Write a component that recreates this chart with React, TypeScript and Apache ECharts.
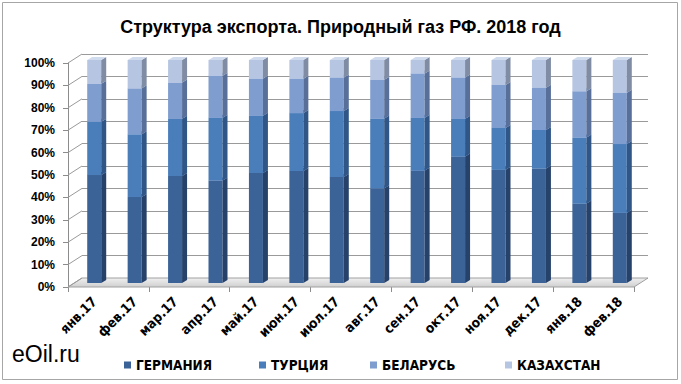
import React, { useEffect, useRef } from "react";
import * as echarts from "echarts";

const categories = ["янв.17", "фев.17", "мар.17", "апр.17", "май.17", "июн.17", "июл.17", "авг.17", "сен.17", "окт.17", "ноя.17", "дек.17", "янв.18", "фев.18"];
const germany = [48.4, 38.6, 48.0, 46.0, 49.3, 50.2, 47.5, 42.5, 50.4, 56.7, 50.8, 51.4, 35.6, 31.5];
const turkey = [23.9, 28.1, 25.6, 28.1, 25.7, 26.0, 29.6, 31.3, 23.7, 16.9, 18.7, 17.2, 29.7, 30.8];
const belarus = [17.0, 20.6, 16.3, 18.8, 16.7, 15.4, 15.1, 17.3, 19.9, 18.6, 19.3, 19.0, 20.7, 23.0];
const kazakhstan = [10.7, 12.7, 10.1, 7.1, 8.3, 8.4, 7.8, 8.9, 6.0, 7.8, 11.2, 12.4, 14.0, 14.7];
const seriesNames = ["ГЕРМАНИЯ", "ТУРЦИЯ", "БЕЛАРУСЬ", "КАЗАХСТАН"];
const tickValues = [0, 10, 20, 30, 40, 50, 60, 70, 80, 90, 100];
const legendLefts = [119, 254, 365, 500];

const frontColors = ["#3b6397", "#4a7ebb", "#7f9dcf", "#b6c5e2"];
const sideColors = ["#26416a", "#2f5686", "#586f9a", "#7f8ca4"];
const topColors = ["#5a80b5", "#6e98cc", "#a3b9df", "#d0dbee"];

const DX = 5;
const DY = -3;
const HALF = 7;

export default function App() {
  const ref = useRef<HTMLDivElement>(null);
  useEffect(() => {
    document.body.style.margin = "0";
    const chart = echarts.init(ref.current!, null, { renderer: "svg" });
    const all = [germany, turkey, belarus, kazakhstan];
    const cum = categories.map(() => 0);
    const barSeries = all.map((arr, s) => {
      const data = arr.map((v, i) => {
        const start = cum[i];
        cum[i] += v;
        return [i, start, cum[i]];
      });
      return {
        type: "custom",
        name: seriesNames[s],
        xAxisIndex: 2,
        yAxisIndex: 2,
        z: 10 + s,
        itemStyle: { color: frontColors[s] },
        encode: { x: 0, y: [1, 2] },
        data,
        renderItem: (params: any, api: any) => {
          const idx = api.value(0);
          const p0 = api.coord([idx, api.value(1)]);
          const p1 = api.coord([idx, api.value(2)]);
          const cx = p0[0];
          const x0 = cx - HALF;
          const x1 = cx + HALF;
          return {
            type: "group",
            children: [
              {
                type: "rect",
                shape: { x: x0, y: p1[1], width: x1 - x0, height: p0[1] - p1[1] },
                style: { fill: frontColors[s] },
              },
              {
                type: "polygon",
                shape: { points: [[x1, p0[1]], [x1, p1[1]], [x1 + DX, p1[1] + DY], [x1 + DX, p0[1] + DY]] },
                style: { fill: sideColors[s] },
              },
              {
                type: "polygon",
                shape: { points: [[x0, p1[1]], [x1, p1[1]], [x1 + DX, p1[1] + DY], [x0 + DX, p1[1] + DY]] },
                style: { fill: topColors[s] },
              },
            ],
          };
        },
      };
    });

    const decoSeries = {
      type: "custom",
      xAxisIndex: 0,
      yAxisIndex: 0,
      z: 3,
      silent: true,
      data: tickValues.map((t) => [0, t]),
      renderItem: (params: any, api: any) => {
        const cs = params.coordSys;
        const p = api.coord([0, api.value(1)]);
        const y = p[1];
        const children: any[] = [
          {
            type: "line",
            shape: { x1: cs.x, y1: y, x2: cs.x + 14, y2: y - 9 },
            style: { stroke: "#9a9a9a", lineWidth: 1 },
          },
        ];
        if (api.value(1) === 0) {
          children.unshift({
            type: "polygon",
            shape: {
              points: [[cs.x, y], [cs.x + cs.width, y], [cs.x + cs.width + 14, y - 9], [cs.x + 14, y - 9]],
            },
            style: {
              fill: new echarts.graphic.LinearGradient(0, 0, 0, 1, [
                { offset: 0, color: "#f0f0f0" },
                { offset: 1, color: "#cfcfcf" },
              ]),
              stroke: "#a0a0a0",
              lineWidth: 1,
            },
          });
        }
        return { type: "group", children };
      },
    };

    const labelFont = "'Liberation Sans Narrow', 'DejaVu Sans Condensed', 'Liberation Sans', Arial, sans-serif";

    chart.setOption({
      animation: false,
      backgroundColor: "#ffffff",
      title: {
        text: "Структура экспорта. Природный газ РФ. 2018 год",
        left: "center",
        top: 13,
        textStyle: { fontSize: 18, fontWeight: "bold", color: "#000", fontFamily: "'Liberation Sans', Arial, sans-serif" },
      },
      legend: seriesNames.map((n, i) => ({
        left: legendLefts[i],
        top: 353,
        itemWidth: 7,
        itemHeight: 7,
        icon: "rect",
        data: [n],
        textStyle: { fontSize: 13.5, fontWeight: "bold", color: "#000", fontFamily: labelFont },
      })),
      graphic: [
        {
          type: "rect",
          shape: { x: 2.5, y: 2.5, width: 675, height: 377 },
          style: { fill: "none", stroke: "#a6a6a6", lineWidth: 1 },
          silent: true,
        },
        {
          type: "text",
          left: 12,
          top: 342,
          style: { text: "eOil.ru", font: "23px 'Liberation Sans', Arial, sans-serif", fill: "#000" },
        },
      ],
      grid: [
        { left: 68, top: 63, width: 566, height: 224 },
        { left: 82, top: 54, width: 566, height: 224 },
        { left: 74, top: 60, width: 566, height: 223 },
      ],
      xAxis: [
        {
          gridIndex: 0,
          type: "category",
          data: categories,
          boundaryGap: true,
          axisLine: { show: false },
          axisTick: { show: true, length: 5, lineStyle: { color: "#8c8c8c" }, alignWithLabel: false },
          axisLabel: { show: false },
        },
        {
          gridIndex: 1,
          type: "category",
          data: categories,
          axisLine: { show: false },
          axisTick: { show: false },
          axisLabel: { show: false },
        },
        {
          gridIndex: 2,
          type: "category",
          data: categories,
          axisLine: { show: false },
          axisTick: { show: false },
          axisLabel: {
            rotate: 45,
            margin: 16,
            interval: 0,
            fontSize: 13.5,
            fontWeight: "bold",
            color: "#000",
            fontFamily: labelFont,
          },
        },
      ],
      yAxis: [
        {
          gridIndex: 0,
          type: "value",
          min: 0,
          max: 100,
          interval: 10,
          axisLine: { show: true, lineStyle: { color: "#8c8c8c" } },
          axisTick: { show: true, length: 5, lineStyle: { color: "#8c8c8c" } },
          splitLine: { show: false },
          axisLabel: {
            margin: 13,
            formatter: "{value}%",
            fontSize: 12,
            fontWeight: "bold",
            color: "#000",
            fontFamily: "'Liberation Sans', Arial, sans-serif",
          },
        },
        {
          gridIndex: 1,
          type: "value",
          min: 0,
          max: 100,
          interval: 10,
          axisLine: { show: false },
          axisTick: { show: false },
          axisLabel: { show: false },
          splitLine: { show: true, lineStyle: { color: "#9a9a9a", width: 1 } },
        },
        {
          gridIndex: 2,
          type: "value",
          min: 0,
          max: 100,
          show: false,
          splitLine: { show: false },
        },
      ],
      series: [decoSeries, ...barSeries],
    });
    return () => chart.dispose();
  }, []);
  return <div ref={ref} style={{ width: 681, height: 384 }} />;
}
